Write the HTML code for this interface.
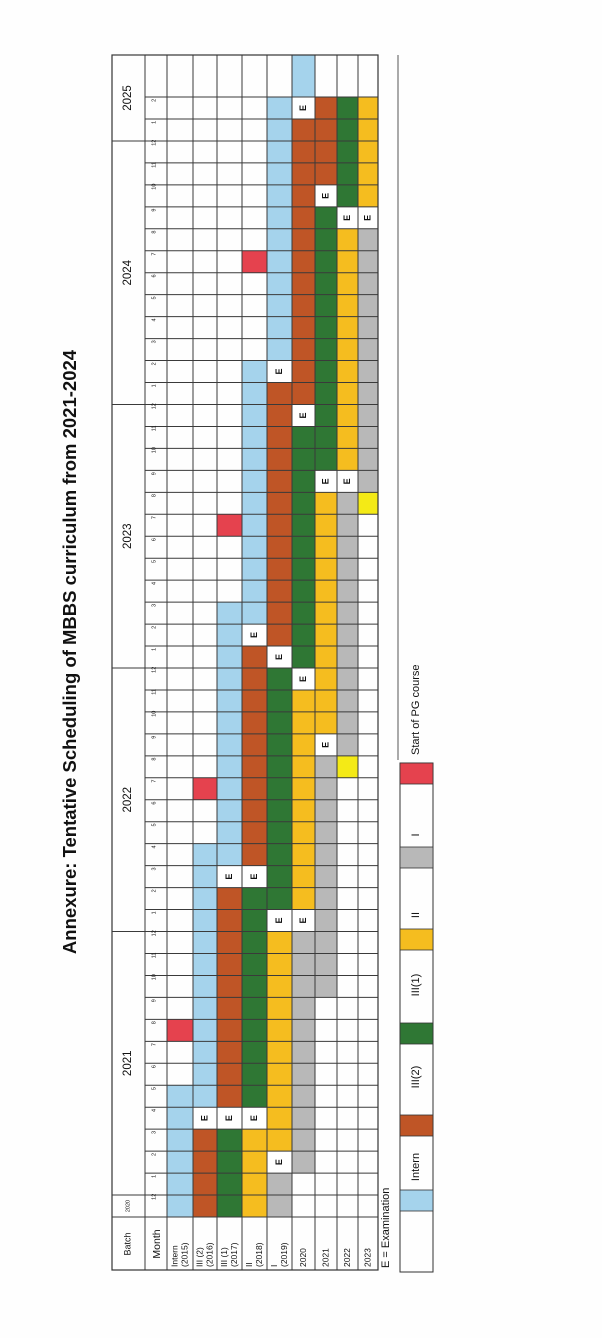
<!DOCTYPE html>
<html><head><meta charset="utf-8">
<style>
html,body{margin:0;padding:0;background:#fff;}
svg{display:block;font-family:"Liberation Sans",sans-serif;}
</style></head>
<body>
<svg id="chart" width="602" height="1338" viewBox="0 0 602 1338" xmlns="http://www.w3.org/2000/svg">
<rect x="0" y="0" width="602" height="1338" fill="#fefefe"/>
<text transform="translate(76,652) rotate(-90)" text-anchor="middle" font-size="18.5" font-weight="bold" fill="#111">Annexure: Tentative Scheduling of MBBS curriculum from 2021-2024</text>
<g id="grid"></g>
</svg>
<script>
// Batch rows (data)
const batchLabels = [["Intern","(2015)"],["III (2)","(2016)"],["III (1)","(2017)"],["II","(2018)"],["I","(2019)"],["2020"],["2021"],["2022"],["2023"]];
// segments: [startIndex, endIndex, code]; index 0 = Dec 2020, 1..12 = 2021, 13..24 = 2022, 25..36 = 2023, 37..48 = 2024, 49..50 = 2025 m1-2, 51 = rest of 2025
const rowIntern = [[0,5,"B"],[8,8,"X"]];
const rowIII2 = [[0,3,"R"],[4,4,"E"],[5,16,"B"],[19,19,"X"]];
const rowIII1 = [[0,3,"G"],[4,4,"E"],[5,14,"R"],[15,15,"E"],[16,27,"B"],[31,31,"X"]];
const rowII = [[0,3,"Y"],[4,4,"E"],[5,14,"G"],[15,15,"E"],[16,25,"R"],[26,26,"E"],[27,38,"B"],[43,43,"X"]];
const rowI = [[0,1,"S"],[2,2,"E"],[3,12,"Y"],[13,13,"E"],[14,24,"G"],[25,25,"E"],[26,37,"R"],[38,38,"E"],[39,50,"B"]];
const row2020 = [[2,12,"S"],[13,13,"E"],[14,23,"Y"],[24,24,"E"],[25,35,"G"],[36,36,"E"],[37,49,"R"],[50,50,"E"],[51,51,"B"]];
const row2021 = [[10,20,"S"],[21,21,"E"],[22,32,"Y"],[33,33,"E"],[34,45,"G"],[46,46,"E"],[47,50,"R"]];
const row2022 = [[20,20,"L"],[21,32,"S"],[33,33,"E"],[34,44,"Y"],[45,45,"E"],[46,50,"G"]];
const row2023 = [[32,32,"L"],[33,44,"S"],[45,45,"E"],[46,50,"Y"]];
const rowSegments = [rowIntern,rowIII2,rowIII1,rowII,rowI,row2020,row2021,row2022,row2023];
const monthLabels = ["12","1","2","3","4","5","6","7","8","9","10","11","12","1","2","3","4","5","6","7","8","9","10","11","12","1","2","3","4","5","6","7","8","9","10","11","12","1","2","3","4","5","6","7","8","9","10","11","12","1","2",""];
const years = ["2020","2021","2022","2023","2024","2025"];
const yearStart = [0,1,13,25,37,49];
const yearEnd = [0,12,24,36,48,51];
const legendNames = ["Intern","III(2)","III(1)","II","I","Start of PG course"];
const legendCodes = ["B","R","G","Y","S","X"];

const colors = {B:"#a5d3ec",R:"#bf5526",G:"#2f7734",Y:"#f5bd1f",S:"#b8b8b8",X:"#e5424e",L:"#f4ea16",E:"#ffffff"};
const NS="http://www.w3.org/2000/svg";
const g=document.getElementById("grid");
const colX=[145,167,193,217,242,267,292,315,337,358,378];
const top0=55, base=1217, hCell=21.96, tableLeft=112, tableBottom=1270;
function cellTop(i){return i>=51?top0:base-(i+1)*hCell;}
function cellBot(i){return base-i*hCell;}
function mk(tag,attrs){const e=document.createElementNS(NS,tag);for(const k in attrs)e.setAttribute(k,attrs[k]);g.appendChild(e);return e;}
function vtext(x,y,str,size,weight,anchor){const t=mk("text",{transform:`translate(${x},${y}) rotate(-90)`,"font-size":size,"text-anchor":anchor||"middle",fill:"#111","dominant-baseline":"middle"});if(weight)t.setAttribute("font-weight",weight);t.textContent=str;return t;}

// cells
rowSegments.forEach((segs,r)=>{
  segs.forEach(s=>{
    for(let i=s[0];i<=s[1];i++){
      const y1=cellTop(i),y2=cellBot(i);
      const c=mk("rect",{x:colX[r+1],y:y1,width:colX[r+2]-colX[r+1],height:y2-y1,fill:colors[s[2]]});
      
      
      if(s[2]==="E"){
        const t=vtext((colX[r+1]+colX[r+2])/2,(y1+y2)/2,"E",9,"bold");
        
        
      }
    }
  });
});

// grid lines
const ln={stroke:"#3a3a3a","stroke-width":1};
for(let i=0;i<=51;i++){
  const y=cellBot(i);
  mk("line",Object.assign({x1:colX[0],x2:colX[colX.length-1],y1:y,y2:y},ln));
}
mk("line",Object.assign({x1:colX[0],x2:colX[colX.length-1],y1:top0,y2:top0},ln));
for(let k=1;k<colX.length;k++){
  mk("line",Object.assign({x1:colX[k],x2:colX[k],y1:top0,y2:tableBottom},ln));
}
mk("line",Object.assign({x1:colX[0],x2:colX[0],y1:top0,y2:tableBottom},ln));
mk("rect",{x:tableLeft,y:top0,width:colX[colX.length-1]-tableLeft,height:tableBottom-top0,fill:"none",stroke:"#333","stroke-width":1.2});
mk("line",Object.assign({x1:tableLeft,x2:colX[colX.length-1],y1:base,y2:base},ln));

// year blocks
years.forEach((yr,k)=>{
  const y1=cellTop(yearEnd[k]),y2=cellBot(yearStart[k]);
  mk("line",Object.assign({x1:tableLeft,x2:colX[0],y1:y1,y2:y1},ln));
  let t;
  if(k===0){t=vtext(128,(y1+y2)/2,yr,5.5);}
  else {t=vtext(128,(y1+y2)/2,yr,11.5);}
  
  
});
// month labels
monthLabels.forEach((m,i)=>{
  if(!m)return;
  const t=vtext(154,cellBot(i)-hCell*0.78,m,5.5,null,"start");
  
  
});
// header labels
let th=vtext(128,1244,"Batch",9);


th=vtext(157,1244,"Month",10.5);


batchLabels.forEach((lb,r)=>{
  const cx=(colX[r+1]+colX[r+2])/2;
  let t;
  if(lb.length===2){
    t=vtext(cx-5,1267,lb[0],8.5,null,"start");
    const t2=vtext(cx+5,1267,lb[1],8.5,null,"start");
    
    
  } else {
    t=vtext(cx,1267,lb[0],8.5,null,"start");
  }
  
  
});

// right separator line
mk("line",{x1:398,x2:398,y1:top0,y2:760,stroke:"#555","stroke-width":1});
let ex=vtext(386,1268,"E = Examination",11,null,"start");


const lbx=mk("rect",{x:400,y:763,width:33,height:509,fill:"none",stroke:"#333","stroke-width":1});


const swY=[1190,1115,1023,929,847,763];
const labY=[1167,1077,985,915,835,755];
legendCodes.forEach((c,k)=>{
  const s=mk("rect",{x:400,y:swY[k],width:33,height:21,fill:colors[c],stroke:"#333","stroke-width":0.8});
  
  
  let t;
  if(k<5) t=vtext(416,labY[k],legendNames[k],11);
  else t=vtext(416,labY[k],legendNames[k],11,null,"start");
  
  
});
</script>
</body></html>
